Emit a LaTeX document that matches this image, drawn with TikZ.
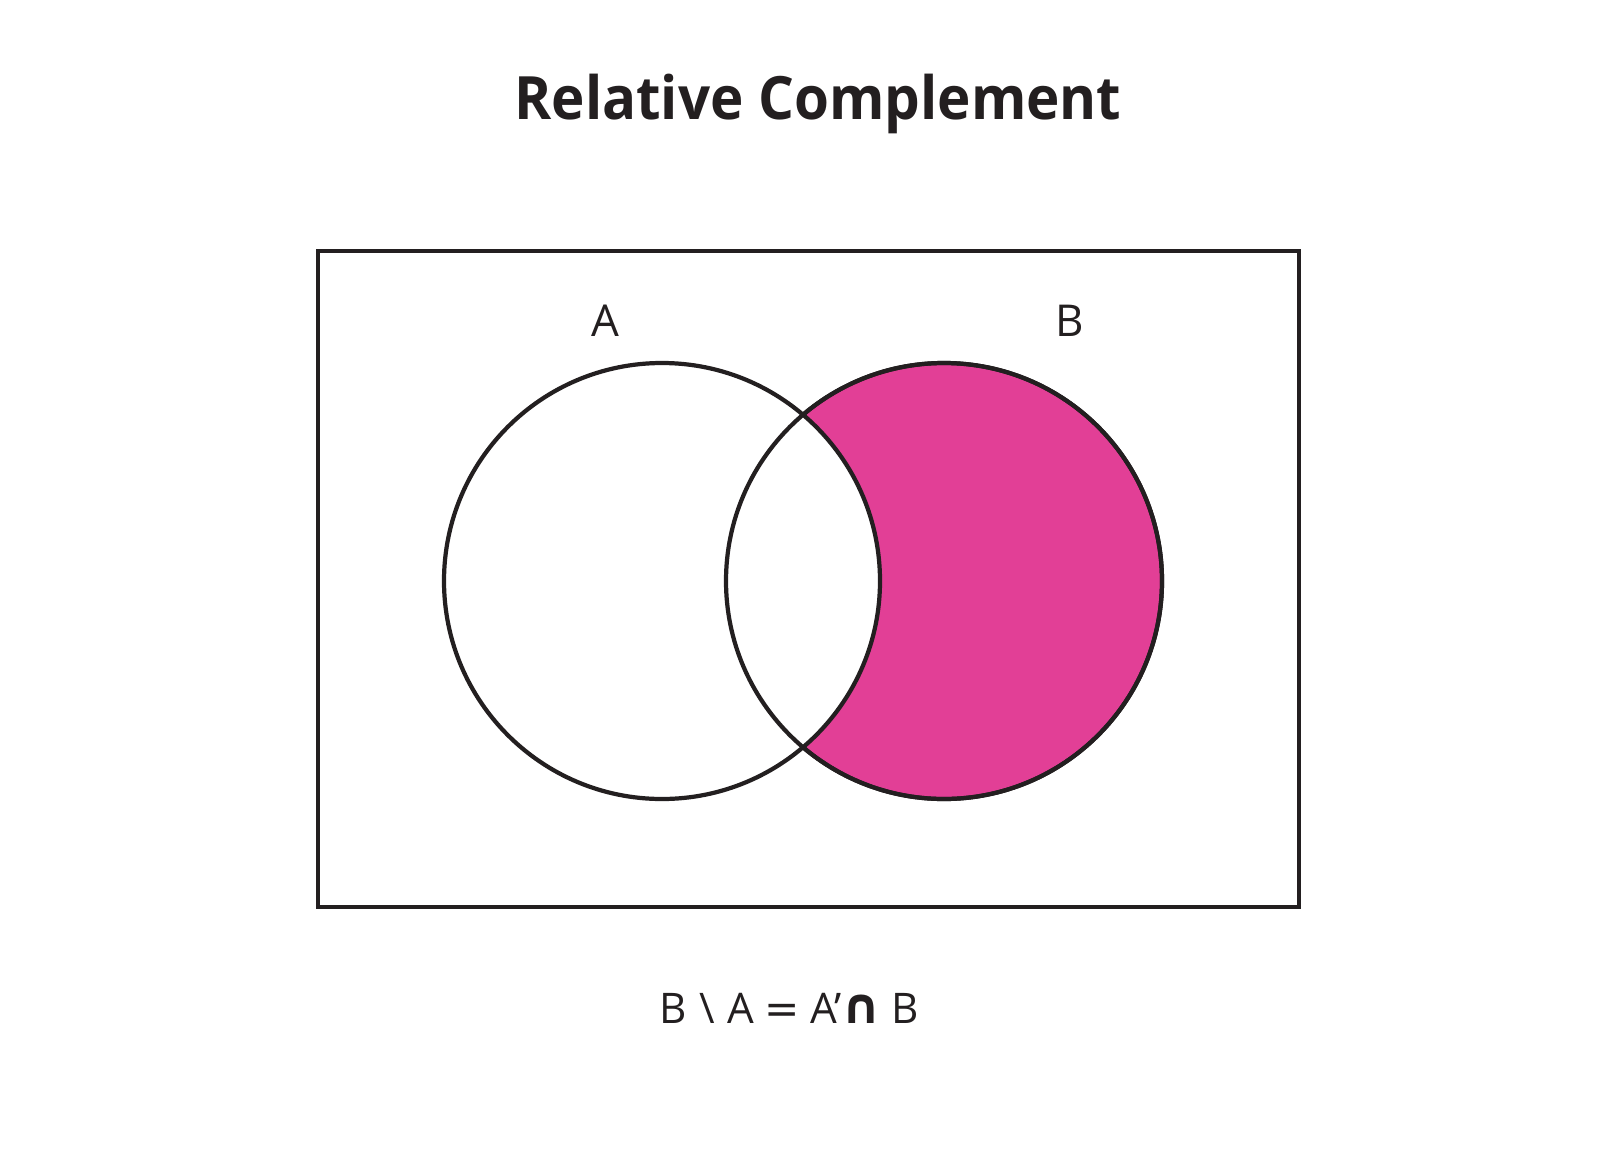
\documentclass[tikz,border=0pt]{standalone}
\usepackage{fontspec}
\setmainfont{Open Sans}
\newfontfamily\symfont{DejaVu Sans}
\usepackage{tikz}
\usetikzlibrary{positioning}
\definecolor{setpink}{RGB}{226,63,150}
\definecolor{inkline}{RGB}{35,31,32}
\tikzset{
	setcircle/.style={
		circle, 
		draw=inkline, line width=2.4pt,
		minimum size=87.2mm, 
		inner sep=0pt},
	universe/.style={draw=inkline, line width=2.6pt},
	setlabel/.style={anchor=base, text=inkline, font=\fontsize{25}{30}\selectfont},
	headline/.style={anchor=base, text=inkline, xscale=0.945, font=\bfseries\fontsize{34}{40}\selectfont},
}

\begin{document}
\begin{tikzpicture}
	 		[x=0.2mm, y=-0.2mm]
	 		\useasboundingbox (0,0) rectangle (1600,1162);
	 		\node[headline] (title) at (818,120) {Relative Complement};
	 		
	 		\draw[universe] (318,251) rectangle (1299,907);
	 		\node[setcircle, fill=setpink] (setB) at (944,581) {};
	 		\node[setcircle, fill=white] (setA) at (662,581) {};
	 		\node[setcircle] at (setB) {};
	 		
	 		\node[setlabel] (labA) at (605,336) {A};
	 		\node[setlabel] (labB) at (1070,336) {B};
	 		\node[setlabel, font=\fontsize{24}{30}\selectfont] (formula) at (789,1023)
	 			{B\hspace{0.3em}\textbackslash\hspace{0.3em}A\hspace{0.25em}{\symfont =}\hspace{0.25em}A’{\symfont\bfseries\fontsize{28}{30}\selectfont ∩}\hspace{0.25em}B};
	 		
	 		
\end{tikzpicture}
\end{document}
